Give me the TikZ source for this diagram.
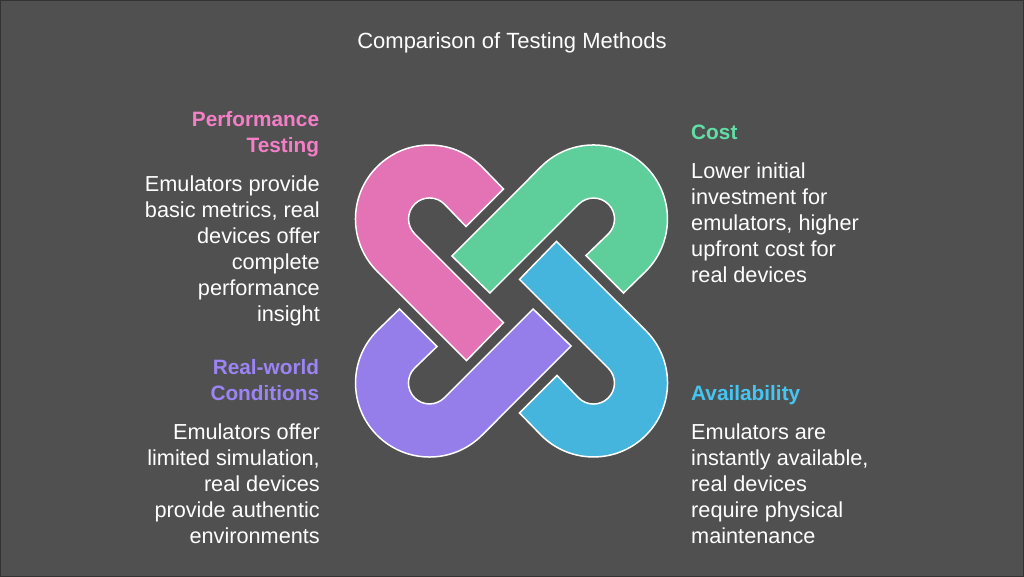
\documentclass[tikz,border=0pt]{standalone}
\usepackage{fontspec}
\setmainfont{Liberation Sans}
\usetikzlibrary{positioning}
\definecolor{bgcol}{HTML}{505050}
\definecolor{edgecol}{HTML}{333333}
\definecolor{pinkfill}{HTML}{E373B5}
\definecolor{greenfill}{HTML}{5ECE9A}
\definecolor{bluefill}{HTML}{45B5DD}
\definecolor{purplefill}{HTML}{957EEA}
\definecolor{pinkhead}{HTML}{F47FC6}
\definecolor{greenhead}{HTML}{62DDA5}
\definecolor{bluehead}{HTML}{45C6F2}
\definecolor{purplehead}{HTML}{9C84F5}
\tikzset{
  bodyleft/.style={text=white,align=right,anchor=north east,inner sep=0pt,font=\fontsize{21.7}{26}\selectfont},
  bodyright/.style={text=white,align=left,anchor=north west,inner sep=0pt,font=\fontsize{21.7}{26}\selectfont},
  headleft/.style={align=right,anchor=north east,inner sep=0pt,font=\fontsize{20.8}{26}\selectfont\bfseries},
  headright/.style={align=left,anchor=north west,inner sep=0pt,font=\fontsize{20.8}{26}\selectfont\bfseries},
  link/.style={draw=white,line width=1.5pt,line join=miter}
}
\begin{document}
\begin{tikzpicture}[x=1pt,y=1pt]

	\useasboundingbox (0,0) rectangle (1024,577);
	\fill[bgcol] (0,0) rectangle (1024,577);
	\draw[edgecol,line width=1pt] (0.5,0.5) rectangle (1023.5,576.5);

	\def\cx{511.5};
	\def\cy{276};

	% one link per corner, turned about the middle
	\foreach \ang/\col in {0/pinkfill,-90/greenfill,180/bluefill,90/purplefill} {
		\begin{scope}[shift={(\cx,\cy)},rotate=\ang]
			\draw[link,fill=\col] (-8,112) -- (-29.7,134.3)
				arc[start angle=45,end angle=225,radius=74]
				-- (-45,-59.6) -- (-8,-21.6) -- (-96.8,67.2)
				arc[start angle=225,end angle=45,radius=21]
				-- (-45.5,74.5) -- cycle;
		\end{scope}
	}

	\node (title) at (512,534.5) [text=white,font=\fontsize{22}{26}\selectfont] {Comparison of Testing Methods};

	\node (perfhead) at (319.3,465.5) [headleft,text=pinkhead] {Performance\\Testing};
	\node (perfbody) at (320,401.3) [bodyleft] {Emulators provide\\basic metrics, real\\devices offer\\complete\\performance\\insight};

	\node (realhead) at (319.3,217.5) [headleft,text=purplehead] {Real-world\\Conditions};
	\node (realbody) at (320,153.3) [bodyleft] {Emulators offer\\limited simulation,\\real devices\\provide authentic\\environments};

	\node (costhead) at (691,452.5) [headright,text=greenhead] {Cost};
	\node (costbody) at (691,414.3) [bodyright] {Lower initial\\investment for\\emulators, higher\\upfront cost for\\real devices};

	\node (availhead) at (691,191.5) [headright,text=bluehead] {Availability};
	\node (availbody) at (691,153.3) [bodyright] {Emulators are\\instantly available,\\real devices\\require physical\\maintenance};

\end{tikzpicture}
\end{document}
